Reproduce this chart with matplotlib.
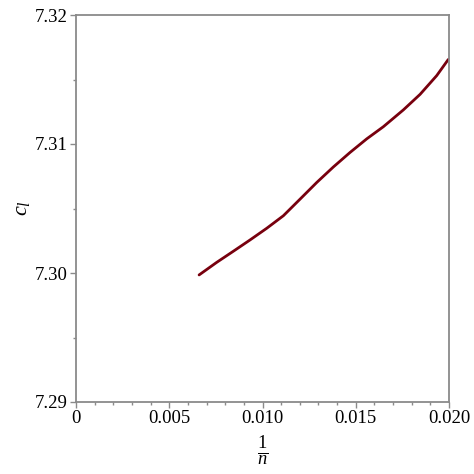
import matplotlib
matplotlib.use("Agg")
import matplotlib.pyplot as plt
import numpy as np
from matplotlib.ticker import MultipleLocator, FixedFormatter, FixedLocator

# valeurs
inv_n = [0.00660, 0.00754, 0.00843, 0.00933, 0.01023, 0.01112, 0.01201,
         0.01291, 0.01380, 0.01469, 0.01559, 0.01648, 0.01755, 0.01845,
         0.01934, 0.01996]
c_l = [7.29985, 7.30082, 7.30168, 7.30256, 7.30347, 7.30444, 7.30572,
       7.30702, 7.30822, 7.30934, 7.31040, 7.31134, 7.31264, 7.31385,
       7.31530, 7.31655]

xticks = [0, 0.005, 0.010, 0.015, 0.020]
xtick_labels = ["0", "0.005", "0.010", "0.015", "0.020"]
yticks = [7.29, 7.30, 7.31, 7.32]
ytick_labels = ["7.29", "7.30", "7.31", "7.32"]

plt.rcParams['font.family'] = ['Liberation Serif', 'DejaVu Serif']
plt.rcParams['mathtext.fontset'] = 'custom'
plt.rcParams['mathtext.rm'] = 'Liberation Serif'
plt.rcParams['mathtext.it'] = 'Liberation Serif:italic'

fig = plt.figure(figsize=(4.74, 4.74), dpi=100)
ax = fig.add_axes([76/474, 72/474, 373/474, 387/474])

ax.plot(inv_n, c_l, color='#78000E', linewidth=2, solid_capstyle='round',
        solid_joinstyle='round')

ax.set_xlim(0, 0.020)
ax.set_ylim(7.29, 7.32)
ax.xaxis.set_major_locator(FixedLocator(xticks))
ax.xaxis.set_major_formatter(FixedFormatter(xtick_labels))
ax.yaxis.set_major_locator(FixedLocator(yticks))
ax.yaxis.set_major_formatter(FixedFormatter(ytick_labels))
ax.xaxis.set_minor_locator(MultipleLocator(0.001))
ax.yaxis.set_minor_locator(MultipleLocator(0.005))

for s in ax.spines.values():
    s.set_color('#8a8a8a')
    s.set_linewidth(1.3)
ax.tick_params(which='both', direction='out', color='#8a8a8a', top=False, right=False)
ax.tick_params(which='major', length=4, width=1, labelsize=13.5, pad=2)
ax.tick_params(which='minor', length=2.5, width=1)

ax.set_xlabel(r'$\frac{1}{n}$', fontsize=19, labelpad=4)
ax.set_ylabel(r'$c_l$', fontsize=16, labelpad=2)

plt.savefig("out.png", dpi=100)
